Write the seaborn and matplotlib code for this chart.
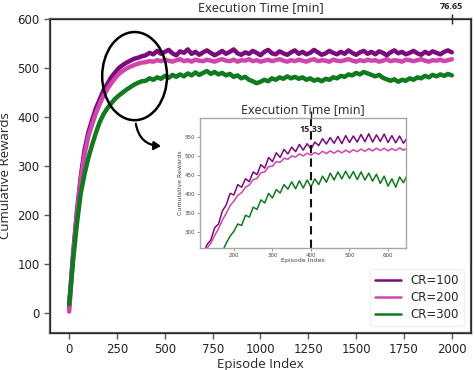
import numpy as np
import pandas as pd
import seaborn as sns
import matplotlib.pyplot as plt
from matplotlib.patches import Ellipse, FancyArrowPatch

# main run: values read every 20 episodes (0 .. 2000)
episodes = list(range(0, 2001, 20))
cr100 = [12, 118, 205, 276, 332, 368, 394, 418, 436, 455, 468, 481, 491, 500, 506, 511, 515, 519, 521, 524,
         526, 531, 528, 535, 529, 533, 537, 530, 526, 534,
         531, 538, 529, 533, 527, 532, 536, 531, 526, 530,
         535, 529, 533, 538, 530, 527, 532, 529, 535, 531,
         526, 533, 537, 530, 528, 534, 530, 527, 532, 536,
         529, 533, 528, 531, 537, 532, 527, 530, 535, 531,
         528, 533, 529, 536, 531, 527, 532, 535, 529, 533,
         528, 534, 531, 526, 532, 536, 530, 533, 528, 531,
         535, 530, 527, 533, 529, 534, 531, 528, 533, 536,
         532]
cr200 = [3, 112, 198, 270, 323, 360, 385, 408, 427, 444, 457, 469, 479, 488, 494, 499, 503, 506, 509, 511,
         512, 514, 513, 516, 514, 517, 515, 513, 516, 518,
         514, 516, 513, 517, 515, 514, 517, 515, 513, 516,
         518, 515, 514, 517, 513, 516, 515, 518, 514, 516,
         513, 515, 517, 514, 516, 518, 515, 513, 516, 514,
         517, 515, 513, 516, 518, 514, 516, 515, 513, 517,
         515, 514, 516, 518, 515, 513, 516, 514, 517, 515,
         516, 513, 515, 518, 514, 516, 515, 513, 517, 516,
         514, 516, 518, 515, 513, 516, 515, 517, 514, 516,
         518]
cr300 = [18, 105, 180, 243, 283, 316, 343, 368, 390, 406, 418, 428, 437, 444, 450, 456, 461, 466, 470, 473,
         474, 479, 476, 481, 478, 484, 480, 486, 482, 487,
         483, 489, 485, 491, 486, 490, 494, 488, 492, 487,
         490, 485, 488, 482, 485, 479, 482, 476, 473, 469,
         472, 476, 473, 479, 476, 481, 478, 483, 479, 482,
         478, 481, 476, 479, 474, 477, 473, 478, 476, 481,
         479, 484, 482, 487, 485, 490, 487, 492, 489, 486,
         483, 486, 480, 477, 474, 477, 472, 476, 474, 479,
         476, 481, 479, 484, 481, 486, 483, 487, 484, 488,
         485]

# zoomed run (inset): values read every 10 episodes
ins_ep = list(range(120, 651, 10))
ins100 = [240, 268, 280, 312, 322, 356, 372, 402, 398, 425, 418, 440, 433, 458, 451, 477, 468, 496, 485, 508,
          496, 517, 505, 523, 511, 530, 515, 532, 518, 536, 527, 545, 531, 548, 533, 551, 532, 553, 535, 552,
          536, 556, 537, 558, 536, 555, 538, 557, 535, 553, 534, 552, 533, 548]
ins200 = [235, 258, 272, 292, 310, 332, 350, 370, 382, 397, 404, 418, 424, 438, 441, 456, 458, 472, 473, 485,
          483, 494, 491, 500, 497, 505, 500, 507, 502, 509, 504, 512, 506, 513, 507, 514, 508, 515, 509, 516,
          511, 518, 512, 519, 513, 520, 514, 520, 513, 519, 514, 521, 515, 520]
ins_ep300 = list(range(160, 651, 10))
ins300 = [228, 250, 272, 290, 303, 322, 318, 345, 340, 366, 360, 385, 377, 402, 390, 412, 403, 425, 413, 432,
          414, 435, 416, 437, 419, 440, 425, 447, 431, 455, 437, 458, 440, 460, 441, 459, 438, 458, 437, 455,
          434, 452, 428, 447, 421, 440, 418, 445, 430, 450]

labels = ["CR=100", "CR=200", "CR=300"]
colors = {"CR=100": "#7b0a7b", "CR=200": "#cf45ad", "CR=300": "#0f7a1e"}

main_df = pd.concat([
    pd.DataFrame({"Episode": episodes, "Reward": cr100, "CR": labels[0]}),
    pd.DataFrame({"Episode": episodes, "Reward": cr200, "CR": labels[1]}),
    pd.DataFrame({"Episode": episodes, "Reward": cr300, "CR": labels[2]}),
], ignore_index=True)
ins_df = pd.concat([
    pd.DataFrame({"Episode": ins_ep, "Reward": ins100, "CR": labels[0]}),
    pd.DataFrame({"Episode": ins_ep, "Reward": ins200, "CR": labels[1]}),
    pd.DataFrame({"Episode": ins_ep300, "Reward": ins300, "CR": labels[2]}),
], ignore_index=True)

sns.set_style("ticks")
plt.rcParams["font.family"] = ["DejaVu Sans"]
lab_font = "Open Sans"
spine_c = "#5a5a5a"

fig = plt.figure(figsize=(4.74, 3.70), dpi=100)
ax = fig.add_axes([0.1055, 0.1008, 0.888, 0.8478])
sns.lineplot(data=main_df, x="Episode", y="Reward", hue="CR", palette=colors, linewidth=3.2, ax=ax)
ax.set_xlim(-100, 2100)
ax.set_ylim(-40, 600)
ax.set_xticks([0, 250, 500, 750, 1000, 1250, 1500, 1750, 2000])
ax.set_yticks([0, 100, 200, 300, 400, 500, 600])
ax.tick_params(labelsize=8.5, length=4, width=1, color=spine_c, labelcolor="#222222")
for s in ax.spines.values():
    s.set_color(spine_c)
    s.set_linewidth(1.6)
ax.set_xlabel("Episode Index", fontsize=9.5, family=lab_font, labelpad=1)
ax.set_ylabel("Cumulative Rewards", fontsize=9.5, family=lab_font, labelpad=4)
# explicit y keeps the title on the same line as the top tick label
ax.set_title("Execution Time [min]", fontsize=9.2, family=lab_font, y=1.025, pad=0)
leg = ax.legend(loc="lower right", fontsize=8.5, frameon=True, handlelength=2.2,
                borderaxespad=0.6, labelspacing=0.35)
leg.get_frame().set_edgecolor("#eeeeee")
for h in leg.get_lines():
    h.set_linewidth(1.8)

top = ax.twiny()
top.set_xlim(ax.get_xlim())
top.set_xticks([2000])
top.set_xticklabels(["76.65"], fontsize=6.5, fontweight="bold", family=lab_font)
top.tick_params(axis="x", direction="inout", length=7, width=1, color="#222222", pad=2)

# highlight of the early training phase
ax.add_patch(Ellipse((0.201, 0.818), 0.154, 0.281, transform=ax.transAxes,
                     fill=False, edgecolor="black", linewidth=1.8, zorder=5))
ax.add_patch(FancyArrowPatch((0.203, 0.675), (0.27, 0.595), transform=ax.transAxes,
                             connectionstyle="arc3,rad=0.45", arrowstyle="-|>,head_length=4,head_width=2.5",
                             color="black", linewidth=1.6, zorder=5))

# inset
ins = fig.add_axes([0.422, 0.3305, 0.434, 0.3495])
sns.lineplot(data=ins_df, x="Episode", y="Reward", hue="CR", palette=colors, linewidth=1.1,
             legend=False, ax=ins)
ins.axvline(400, color="#111111", linestyle=(0, (4, 2.5)), linewidth=1.5)
ins.set_xlim(112, 646)
ins.set_ylim(260, 598)
ins.set_xticks([200, 300, 400, 500, 600])
ins.set_yticks([300, 350, 400, 450, 500, 550])
ins.tick_params(labelsize=4, length=2, width=0.6, color="#888888", pad=1.5, labelcolor="#444444")
for s in ins.spines.values():
    s.set_color("#a8a8a8")
    s.set_linewidth(1.0)
ins.set_xlabel("Episode Index", fontsize=4.5, labelpad=0.5, color="#444444")
ins.set_ylabel("Cumulative Rewards", fontsize=4.5, labelpad=1, color="#444444")
ins.set_title("Execution Time [min]", fontsize=9, family=lab_font, y=1.0, pad=4)
itop = ins.twiny()
itop.set_xlim(ins.get_xlim())
itop.set_xticks([400])
itop.set_xticklabels(["15.33"], fontsize=6.5, fontweight="bold", family=lab_font)
itop.tick_params(axis="x", direction="out", length=5, width=1, color="#222222", pad=-16)
for s in itop.spines.values():
    s.set_visible(False)

fig.savefig("out.png", dpi=100)
